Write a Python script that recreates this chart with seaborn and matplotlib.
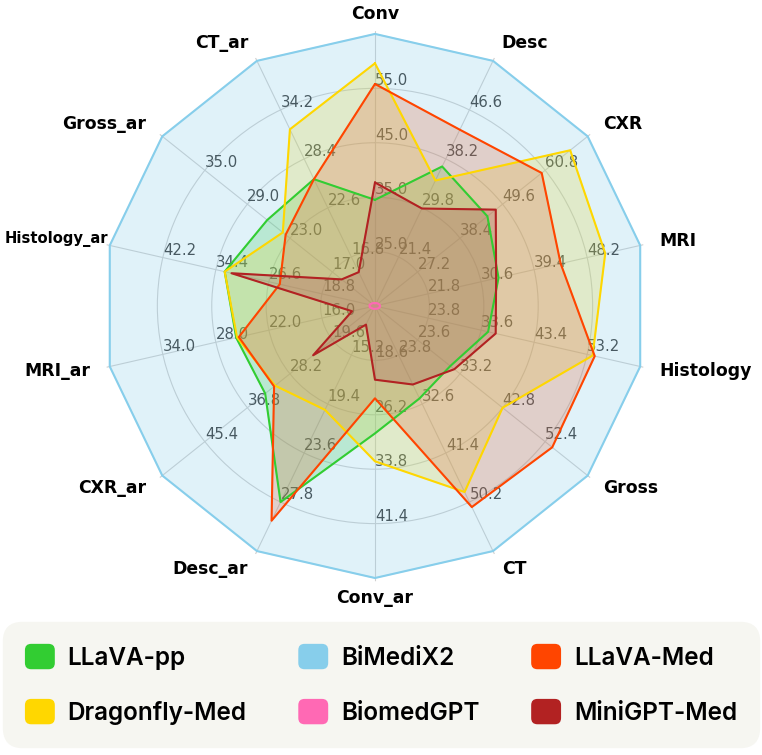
import numpy as np
import matplotlib
matplotlib.use("Agg")
import matplotlib.pyplot as plt
import matplotlib.transforms as mtransforms
import seaborn as sns
from matplotlib.patches import Patch, FancyBboxPatch
from matplotlib.legend_handler import HandlerPatch

categories = ["Conv", "Desc", "CXR", "MRI", "Histology", "Gross", "CT",
              "Conv_ar", "Desc_ar", "CXR_ar", "MRI_ar", "Histology_ar", "Gross_ar", "CT_ar"]
# per-axis scale (centre and outer edge)
axis_min = [15, 13, 16, 13, 14, 14, 15, 11, 11, 11, 10, 11, 11, 11]
axis_max = [65, 55, 72, 57, 63, 62, 59, 49, 32, 54, 40, 50, 41, 40]

llava_pp = [34.5, 36.9, 45.6, 33.5, 34.9, 31.0, 31.6, 28.8, 27.8, 33.2, 25.7, 33.1, 26.2, 26.0]
dragonfly_med = [59.6, 34.5, 67.4, 51.2, 54.2, 42.8, 48.4, 32.7, 19.9, 31.2, 25.6, 33.1, 24.0, 31.9]
bimedix2 = [65, 55, 72, 57, 63, 62, 59, 49, 32, 54, 40, 50, 41, 40]
biomedgpt = [15.5, 13.5, 16.8, 13.8, 14.9, 14.7, 15.5, 11.4, 11.25, 11.6, 10.6, 11.8, 11.45, 11.35]
llava_med = [55.8, 43.2, 59.9, 43.8, 54.6, 54.0, 51.1, 23.9, 29.4, 31.4, 25.4, 25.0, 23.6, 26.0]
minigpt_med = [37.7, 29.7, 47.8, 33.1, 36.3, 31.9, 29.1, 21.3, 12.6, 23.5, 12.6, 32.1, 15.7, 15.0]

legend_models = ["LLaVA-pp", "Dragonfly-Med", "BiMediX2", "BiomedGPT", "LLaVA-Med", "MiniGPT-Med"]
legend_colors = ["limegreen", "gold", "skyblue", "hotpink", "orangered", "firebrick"]

# drawing order: the BiMediX2 fill lies over the others
draw_series = [llava_pp, dragonfly_med, llava_med, minigpt_med, bimedix2, biomedgpt]
draw_colors = ["limegreen", "gold", "orangered", "firebrick", "skyblue", "hotpink"]

sns.set_theme(style="white")
plt.rcParams["font.family"] = ["DejaVu Sans"]

n = len(categories)
theta = np.arange(n) * 2 * np.pi / n
lo = np.array(axis_min, dtype=float)
hi = np.array(axis_max, dtype=float)
step = (hi - lo) / 5

fig = plt.figure(figsize=(7.62, 7.55), dpi=100)
ax = fig.add_axes([0.1308, 0.2301, 0.7226, 0.7293], projection="polar")
ax.set_theta_offset(np.pi / 2)
ax.set_theta_direction(-1)

# tick values of every axis, drawn under the fills
for i, t in enumerate(theta):
    for k in range(1, 5):
        ax.text(t, k, f"{lo[i] + k * step[i]:.1f}", ha="left", va="bottom",
                fontsize=10.7, color="#333333", zorder=1.5)
    cx = np.cos(np.pi / 2 - t)
    ha = "center" if abs(cx) < 0.1 else ("left" if cx > 0 else "right")
    label = categories[i]
    if len(label) > 10:
        # long label squeezed to stay inside the figure
        tr = mtransforms.offset_copy(ax.transData, fig=fig, x=18, y=2, units="dots")
        ax.text(t, 5.37, label, ha=ha, va="center", fontsize=10.6,
                fontweight="bold", color="black", transform=tr)
    else:
        ax.text(t, 5.37, label, ha=ha, va="center", fontsize=12.4,
                fontweight="bold", color="black")

closed = np.append(theta, theta[0])
for vals, col in zip(draw_series, draw_colors):
    r = (np.array(vals) - lo) / step
    r = np.append(r, r[0])
    ax.fill(closed, r, color=col, alpha=0.25, zorder=2)
    sns.lineplot(x=closed, y=r, sort=False, estimator=None, color=col,
                 linewidth=1.5, ax=ax, legend=False, zorder=3)

ax.set_thetalim(0, 2 * np.pi)
ax.set_ylim(0, 5.06)
ax.set_xticks(theta)
ax.set_xticklabels([])
ax.set_yticks([1, 2, 3, 4])
ax.set_yticklabels([])
ax.set_xlabel("")
ax.set_ylabel("")
ax.grid(True, color="#cfcfcf", linewidth=0.8)
ax.spines["polar"].set_visible(False)
ax.set_axisbelow(True)


def rounded_square(legend, orig_handle, xdescent, ydescent, width, height, fontsize):
    return FancyBboxPatch((-xdescent, -ydescent), width, height,
                          boxstyle="round,pad=0,rounding_size=4.5")


handles = [Patch(facecolor=c, edgecolor="none") for c in legend_colors]
leg = fig.legend(handles, legend_models, loc="upper left",
                 bbox_to_anchor=(0.004, 0.0, 0.992, 0.1762), mode="expand", ncol=3,
                 prop={"family": "Inter", "weight": "semibold", "size": 17.5},
                 labelcolor="black", borderaxespad=0,
                 handlelength=1.23, handleheight=1.23, handletextpad=0.53,
                 borderpad=0.9, labelspacing=1.2, frameon=True, fancybox=True,
                 facecolor="#f6f6f1", edgecolor="#f6f6f1", framealpha=1,
                 handler_map={Patch: HandlerPatch(patch_func=rounded_square)})
leg.get_frame().set_boxstyle("round,pad=0,rounding_size=0.8")

fig.savefig("out.png", dpi=100)
